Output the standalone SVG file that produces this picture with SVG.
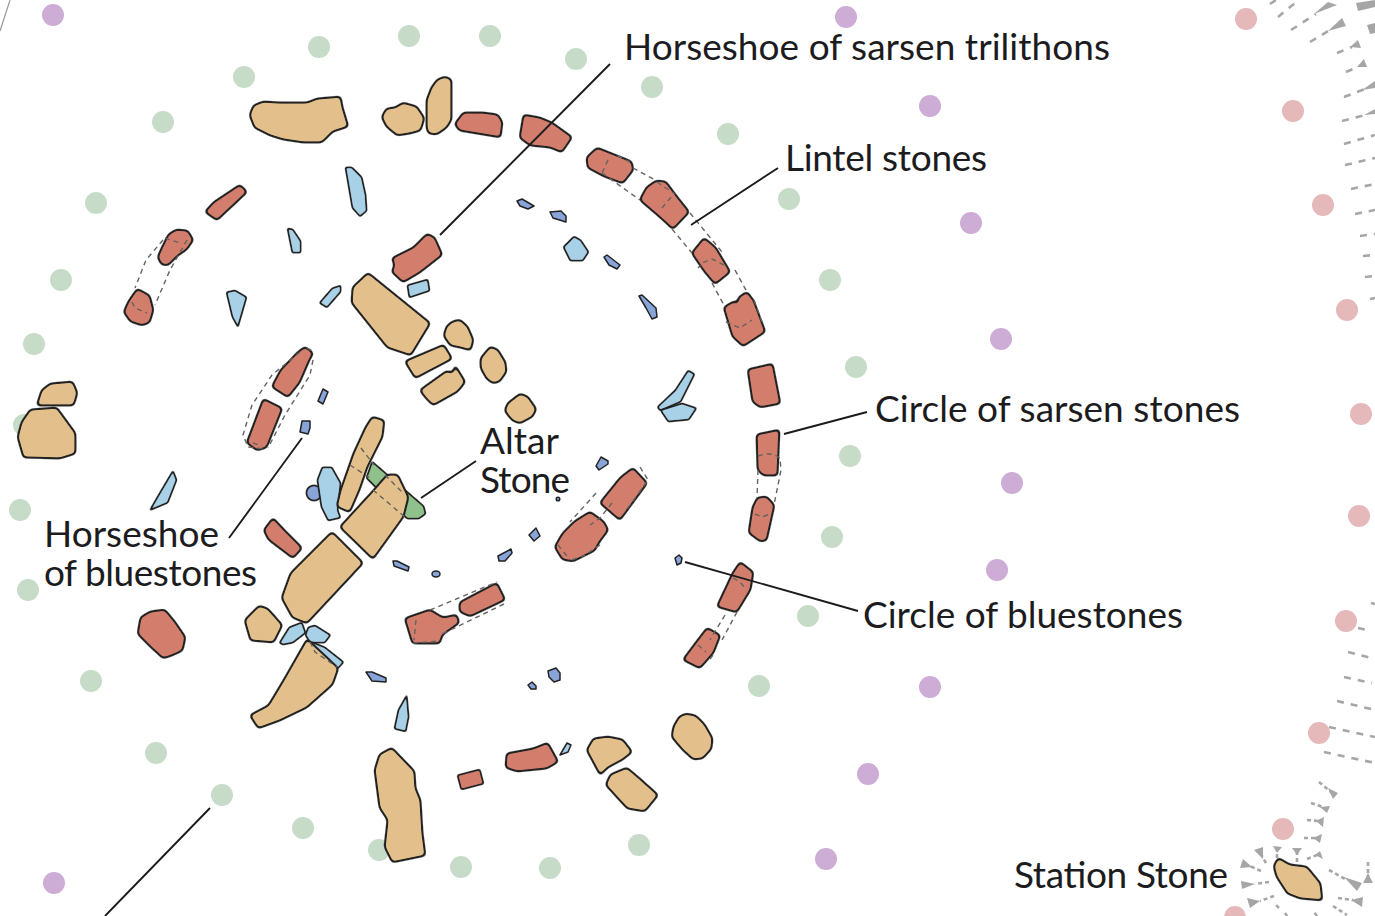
<svg xmlns="http://www.w3.org/2000/svg" width="1375" height="916" viewBox="0 0 1375 916">
<style>
text{font-family:"Lato","Open Sans","Liberation Sans",sans-serif;font-size:37px;fill:#1c1c1e}
.g{fill:#c6dcc9}.p{fill:#cdacd6}.k{fill:#e5b9ba}
.t,.r,.l,.d,.a{filter:url(#ink)}
.m{filter:url(#inkm)}
.sm{filter:none;stroke:#222;stroke-width:1.5;stroke-linejoin:round}
.t{fill:#e3c08b}.r{fill:#d37e6c}.l{fill:#a8d1e7}.d{fill:#89a4d9}.a{fill:#90c18c}
.dash{fill:none;stroke:#66625f;stroke-width:1.4;stroke-dasharray:5 4}
.lead{fill:none;stroke:#1c1c1e;stroke-width:1.9}
.gl{fill:none;stroke:#a6a6a6;stroke-width:2.6;stroke-dasharray:7 7}
.gt{fill:#a6a6a6}
</style>
<defs>
<filter id="ink" x="-30%" y="-30%" width="160%" height="160%" color-interpolation-filters="sRGB">
<feGaussianBlur in="SourceAlpha" stdDeviation="2" result="b"/>
<feComponentTransfer in="b" result="outer"><feFuncA type="linear" slope="5" intercept="-1.6"/></feComponentTransfer>
<feComponentTransfer in="b" result="inner"><feFuncA type="linear" slope="8" intercept="-5.6"/></feComponentTransfer>
<feMorphology in="SourceGraphic" operator="dilate" radius="3" result="c"/>
<feComposite in="c" in2="inner" operator="in" result="f"/>
<feFlood flood-color="#222222"/><feComposite in2="outer" operator="in" result="e"/>
<feMerge><feMergeNode in="e"/><feMergeNode in="f"/></feMerge>
</filter>
<filter id="inkm" x="-40%" y="-40%" width="180%" height="180%" color-interpolation-filters="sRGB">
<feGaussianBlur in="SourceAlpha" stdDeviation="1.2" result="b"/>
<feComponentTransfer in="b" result="outer"><feFuncA type="linear" slope="3" intercept="-0.55"/></feComponentTransfer>
<feComponentTransfer in="b" result="inner"><feFuncA type="linear" slope="5" intercept="-3.75"/></feComponentTransfer>
<feMorphology in="SourceGraphic" operator="dilate" radius="2" result="c"/>
<feComposite in="c" in2="inner" operator="in" result="f"/>
<feFlood flood-color="#222222"/><feComposite in2="outer" operator="in" result="e"/>
<feMerge><feMergeNode in="e"/><feMergeNode in="f"/></feMerge>
</filter>
</defs>
<rect width="1375" height="916" fill="#ffffff"/>
<path d="M0 31L10 0" fill="none" stroke="#999" stroke-width="1.2"/>

<g id="posts">
<circle class="g" cx="319" cy="47" r="11"/><circle class="g" cx="409" cy="36" r="11"/><circle class="g" cx="490" cy="36" r="11"/><circle class="g" cx="576" cy="59" r="11"/><circle class="g" cx="652" cy="87" r="11"/><circle class="g" cx="728" cy="134" r="11"/><circle class="g" cx="789" cy="199" r="11"/><circle class="g" cx="830" cy="280" r="11"/><circle class="g" cx="856" cy="367" r="11"/><circle class="g" cx="850" cy="456" r="11"/><circle class="g" cx="832" cy="537" r="11"/><circle class="g" cx="808" cy="616" r="11"/><circle class="g" cx="759" cy="686" r="11"/><circle class="g" cx="639" cy="845" r="11"/><circle class="g" cx="550" cy="868" r="11"/><circle class="g" cx="461" cy="867" r="11"/><circle class="g" cx="379" cy="850" r="11"/><circle class="g" cx="303" cy="828" r="11"/><circle class="g" cx="222" cy="795" r="11"/><circle class="g" cx="156" cy="753" r="11"/><circle class="g" cx="91" cy="681" r="11"/><circle class="g" cx="28" cy="590" r="11"/><circle class="g" cx="20" cy="510" r="11"/><circle class="g" cx="24" cy="425" r="11"/><circle class="g" cx="34" cy="344" r="11"/><circle class="g" cx="61" cy="280" r="11"/><circle class="g" cx="96" cy="203" r="11"/><circle class="g" cx="163" cy="122" r="11"/><circle class="g" cx="244" cy="77" r="11"/>
<circle class="p" cx="53" cy="15" r="11"/><circle class="p" cx="846" cy="17" r="11"/><circle class="p" cx="930" cy="106" r="11"/><circle class="p" cx="971" cy="223" r="11"/><circle class="p" cx="1001" cy="339" r="11"/><circle class="p" cx="1012" cy="483" r="11"/><circle class="p" cx="997" cy="570" r="11"/><circle class="p" cx="930" cy="687" r="11"/><circle class="p" cx="868" cy="774" r="11"/><circle class="p" cx="826" cy="859" r="11"/><circle class="p" cx="54" cy="883" r="11"/>
<circle class="k" cx="1246" cy="19" r="11"/><circle class="k" cx="1293" cy="111" r="11"/><circle class="k" cx="1323" cy="205" r="11"/><circle class="k" cx="1347" cy="310" r="11"/><circle class="k" cx="1361" cy="414" r="11"/><circle class="k" cx="1359" cy="516" r="11"/><circle class="k" cx="1346" cy="621" r="11"/><circle class="k" cx="1319" cy="733" r="11"/><circle class="k" cx="1283" cy="829" r="11"/><circle class="k" cx="1235" cy="917" r="11"/>
</g>

<g id="earthwork-marks">
<path class="gl" d="M1270 4L1276 0M1278 17L1295 3M1291 30L1316 14M1310 42L1330 30M1337 53L1352 47M1346 72L1358 67M1344 97L1365 89M1342 121L1365 115M1344 144L1375 135M1345 165L1375 158M1351 189L1375 184M1355 214L1375 210M1360 236L1375 234M1363 256L1375 255M1365 277L1375 276M1370 299L1375 298"/>
<path class="gt" d="M1314 14L1328 2L1337 5ZM1328 31L1342 18L1346 26ZM1350 47L1358 40L1361 48ZM1357 67L1364 59L1367 67ZM1362 90L1375 81V88ZM1364 115L1375 109V114ZM1356 3L1375 0V7L1358 11ZM1367 25L1375 23V33L1370 34Z"/>
<path class="gl" d="M1358 628L1367 630M1371 603L1375 604M1348 652L1375 659M1344 677L1372 683M1337 701L1375 710M1329 727L1375 737M1324 752L1375 763"/>
<path class="gl" style="stroke-dasharray:4 3" d="M1319 782L1332 793M1311 803L1323 807M1307 820L1318 821M1304 838L1315 838M1307 859L1317 855M1297 862V852M1277 858V850M1266 863L1262 856M1261 871L1250 866M1269 882L1255 884M1274 896L1260 901M1279 908L1274 903M1287 916L1285 913M1317 916L1314 912M1329 870L1347 880M1368 862V877M1338 898L1353 900M1333 906L1347 915"/>
<path class="gt" d="M1328 788L1338 793L1333 799ZM1320 807L1330 806L1327 813ZM1316 821L1324 817L1323 827ZM1313 838L1322 834L1320 843ZM1315 855L1320 851L1323 859ZM1297 855L1292 848L1302 848ZM1277 853L1273 846L1282 847ZM1263 859L1254 850L1263 847ZM1252 867L1240 868L1243 859ZM1255 884L1241 881L1242 889ZM1260 901L1247 898L1250 908ZM1344 877L1362 883L1357 891ZM1368 873L1363 883L1373 883ZM1351 900L1363 897L1362 907Z"/>
</g>

<g id="altar-stone"><polygon class="a m" points="372,461 424,506 426,514 419,519 407,519 366,478"/></g>

<g id="bluestones">
<polygon class="l m" points="345,167 352,167 362,177 366,195 367,211 360,217 352,208"/>
<polygon class="l m" points="287,228 293,229 301,241 301,253 292,253"/>
<polygon class="l m" points="226,292 235,290 247,297 238,328 232,317"/>
<polygon class="l m" points="319,303 332,288 341,285 341,292 327,308"/>
<polygon class="l m" points="407,285 428,279 430,291 409,298"/>
<polygon class="l m" points="563,247 574,236 581,240 589,252 583,261 570,261"/>
<polygon class="l m" points="688,370 695,374 681,402 660,411 657,407 675,390"/>
<polygon class="l m" points="660,410 682,403 697,408 689,420 668,422"/>
<polygon class="l m" points="160,492 173,470 177,480 168,503 149,511"/>
<circle class="d m" cx="314" cy="493" r="8"/>
<polygon class="l m" points="322,467 332,467 341,483 338,510 341,518 328,521 321,507 317,480"/>
<polygon class="l m" points="279,643 289,627 302,622 306,633 293,643 283,645"/>
<polygon class="l m" points="308,627 315,625 331,635 325,643 310,643 305,635"/>
<polygon class="l m" points="310,641 325,647 344,662 338,669 312,648"/>
<polygon class="l m" points="407,694 409,717 406,732 394,729 398,710"/>
<polygon class="l sm" points="560,755 567,743 571,745 568,752"/>
<polygon class="d sm" points="366,672 372,672 386,678 386,682 372,681"/>
<polygon class="d sm" points="548,671 556,668 560,673 560,680 554,682 549,677"/>
<polygon class="d sm" points="528,685 532,682 536,686 536,689 531,689"/>
<polygon class="d sm" points="393,561 397,561 409,567 408,571 394,566"/>
<ellipse class="d sm" cx="436" cy="574" rx="4" ry="3"/>
<polygon class="d sm" points="498,556 511,549 512,553 505,561 499,561"/>
<polygon class="d sm" points="529,535 536,528 540,536 534,541"/>
<circle class="d sm" cx="558" cy="499" r="1.8"/>
<polygon class="d sm" points="318,401 323,389 328,392 323,404"/>
<polygon class="d sm" points="300,432 302,421 310,421 310,428 308,434"/>
<polygon class="d sm" points="596,466 601,457 608,461 608,464 599,470"/>
<polygon class="d sm" points="675,558 679,555 682,558 681,563 677,565"/>
<polygon class="d sm" points="517,201 522,199 534,206 528,209 520,206"/>
<polygon class="d sm" points="550,212 561,211 566,216 566,222 553,218"/>
<polygon class="d sm" points="604,257 607,255 620,265 617,269 609,265"/>
<polygon class="d sm" points="639,296 642,295 656,308 657,317 652,319 646,308"/>
</g>

<g id="sarsens">
<polygon class="r" points="454,124 463,112 483,112 498,114 503,122 501,138 483,135 459,131"/>
<polygon class="r" points="523,114 540,117 552,122 573,137 562,153 550,148 530,146 519,138"/>
<polygon class="r" points="597,147 632,161 634,170 623,184 604,177 587,168 586,157"/>
<polygon class="r" points="656,180 666,181 678,197 690,212 673,230 660,218 639,200 646,187"/>
<polygon class="r" points="704,237 716,247 731,272 715,285 704,272 691,253"/>
<polygon class="r" points="747,291 754,300 766,332 743,347 732,337 723,307 735,300 737,305 738,297"/>
<polygon class="r" points="747,369 773,363 781,404 760,408 752,402"/>
<polygon class="r" points="756,434 780,429 778,476 763,476 757,470"/>
<polygon class="r" points="757,497 767,496 775,505 767,541 760,542 748,533 752,507"/>
<polygon class="r" points="740,561 754,572 751,590 737,613 716,607 732,573"/>
<polygon class="r" points="707,627 721,635 714,653 700,669 682,660 697,640"/>
<polygon class="r" points="633,467 648,483 620,521 599,503 620,477"/>
<polygon class="r" points="590,511 604,521 609,530 600,542 595,551 573,562 562,560 554,547 562,533 574,521"/>
<polygon class="r" points="459,602 497,582 506,600 470,617 459,612"/>
<polygon class="r" points="404,618 430,609 443,617 457,614 460,623 443,635 440,644 412,644"/>
<polygon class="r" points="263,530 273,517 285,530 303,548 293,559 268,540"/>
<polygon class="r" points="305,346 314,353 310,360 300,383 288,398 271,387 280,370 297,352"/>
<polygon class="r" points="263,398 283,408 267,448 257,451 246,443"/>
<polygon class="r" points="240,184 248,192 217,221 204,212 213,202"/>
<polygon class="r" points="168,234 176,229 188,230 194,240 187,250 178,256 168,266 161,265 157,257 162,246"/>
<polygon class="r" points="137,288 150,295 154,310 150,323 142,326 130,322 123,312 128,301"/>
<polygon class="r" points="427,233 435,237 443,255 420,273 403,283 391,272 394,265 391,258 413,247"/>
<polygon class="r" points="140,617 150,611 165,609 175,621 186,637 183,651 172,656 163,659 152,649 137,634"/>
<polygon class="r" points="506,753 533,748 548,742 559,762 547,769 517,772 505,768"/>
<polygon class="r m" points="457,775 480,769 484,784 461,790"/>

<polygon class="t" points="249,115 253,105 263,101 280,102 307,102 317,98 341,96 343,107 349,127 333,132 322,143 303,143 283,140 270,136 254,128"/>
<polygon class="t" points="381,117 386,108 395,107 403,102 417,106 425,118 421,131 410,134 397,136 386,127"/>
<polygon class="t" points="426,100 431,87 437,79 445,76 452,79 452,120 447,128 437,135 428,134 426,128"/>
<polygon class="t" points="392,747 415,771 416,788 421,800 423,833 426,856 392,863 384,847 387,820 379,808 374,770 379,754"/>
<polygon class="t" points="586,750 593,738 608,736 623,739 633,752 623,760 608,768 600,776"/>
<polygon class="t" points="627,767 640,778 659,795 645,812 627,809 605,785 610,774"/>
<polygon class="t" points="686,713 696,715 705,724 713,738 712,749 703,759 693,760 682,750 671,737 673,726 679,716"/>
<polygon class="t" points="332,531 364,563 307,624 292,618 281,598 290,573 310,553"/>
<polygon class="t" points="372,416 385,420 383,437 368,467 360,490 350,513 336,507 340,490 353,453 365,427"/>
<polygon class="t" points="387,474 398,474 409,497 404,517 373,560 339,527 373,490"/>
<polygon class="t" points="307,638 339,668 333,685 307,708 280,721 258,729 249,715 268,705 283,680"/>
<polygon class="t" points="259,605 268,608 283,625 274,643 250,641 244,620"/>
<polygon class="t" points="368,272 431,323 411,356 387,348 367,323 351,303 352,287"/>
<polygon class="t" points="404,361 444,344 453,359 415,379"/>
<polygon class="t" points="419,390 447,370 452,373 455,364 466,382 458,392 433,406 425,398"/>
<polygon class="t" points="490,346 498,349 506,362 507,372 500,382 493,384 486,379 480,368 480,358"/>
<polygon class="t" points="520,393 528,396 537,409 533,417 520,424 512,421 504,411 507,403"/>
<polygon class="t" points="452,321 460,319 468,326 474,340 471,351 460,348 450,346 443,336 446,326"/>
<polygon class="t" points="36,406 41,390 50,383 73,381 78,393 74,406"/>
<polygon class="t" points="21,422 30,409 57,407 76,433 76,454 60,459 23,458 17,437"/>
</g>

<g id="hidden-outlines">
<path class="dash" d="M633 168L657 181M690 213L722 252M735 270L747 292M602 173L640 200M672 229L692 253M712 283L725 307"/>
<path class="dash" d="M630 162L616 155M608 160L602 173M657 182L675 194M662 208L672 196M724 265L712 259L704 262L698 268M726 322L740 328L752 320M754 300L762 322"/>
<path class="dash" d="M758 456L765 454L773 454L780 458L781 470L777 490L774 505M758 470L757 498M755 514L762 517L770 514"/>
<path class="dash" d="M733 578L740 582L745 588M725 615L710 640M737 612L722 640M698 645L706 652M713 655L708 662"/>
<path class="dash" d="M640 467L648 480L625 512M612 503L600 518L590 525M596 493L570 522M600 545L585 555L572 560M558 545L570 560"/>
<path class="dash" d="M430 610L497 582M504 604L440 635M413 643L440 641M416 620L414 640"/>
<path class="dash" d="M307 348L314 352M300 352L272 375L252 405L243 435L248 447L265 449M313 360L310 375L285 415L268 448M253 443L262 446"/>
<path class="dash" d="M163 240L146 260L135 288M187 240L170 270L155 305M165 238L180 243M132 302L135 308L147 313"/>
<path class="dash" d="M361 448L374 465M350 465L370 478M373 490L405 517M385 475L402 492M310 642L315 652L337 667"/>
</g>

<g id="station-stone"><polygon class="t" points="1273,866 1278,857 1290,864 1307,866 1321,883 1323,901 1300,899 1287,894 1276,877"/></g>

<g id="connectors">
<path class="lead" d="M610 64L440 235M778 168L691 225M867 412L784 434M476 461L421 498M302 438L229 538M685 562L858 611M210 808L105 916"/>
</g>

<g id="labels">
<text x="624" y="60" textLength="486">Horseshoe of sarsen trilithons</text>
<text x="785" y="171" textLength="202">Lintel stones</text>
<text x="875" y="422" textLength="365">Circle of sarsen stones</text>
<text x="863" y="628" textLength="320">Circle of bluestones</text>
<text x="480" y="454" textLength="79">Altar</text>
<text x="480" y="493" textLength="90">Stone</text>
<text x="44" y="547" textLength="175">Horseshoe</text>
<text x="44" y="586" textLength="213">of bluestones</text>
<text x="1014" y="888" textLength="214">Station Stone</text>
</g>
</svg>
